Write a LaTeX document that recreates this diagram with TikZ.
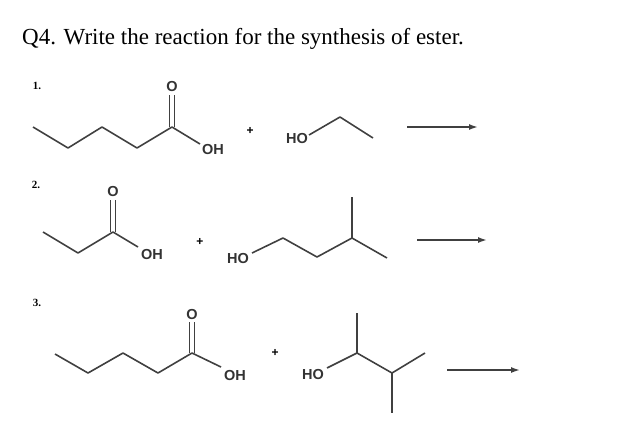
\documentclass[tikz,border=0pt]{standalone}
\usepackage{fontspec}
\setmainfont{Liberation Serif}
\newfontfamily\atomfont{Liberation Sans}
\usetikzlibrary{arrows.meta}
\begin{document}
\begin{tikzpicture}[x=1pt,y=-1pt,
  bond/.style={line width=1.6pt,draw=black!75,line join=round},
  atom/.style={font=\atomfont\bfseries\fontsize{14.5}{14.5}\selectfont,inner sep=0pt,text=black!80},
  num/.style={font=\bfseries\fontsize{11}{11}\selectfont,inner sep=0pt},
  plus/.style={font=\atomfont\bfseries\fontsize{12}{12}\selectfont,inner sep=0pt},
  rarrow/.style={line width=1.6pt,draw=black!75,-{Latex[length=9pt,width=6pt]}}]
\useasboundingbox (0,0) rectangle (628,432);
\node[anchor=base west,inner sep=0pt,font=\fontsize{23}{23}\selectfont] (title) at (22,44) {Q4. Write the reaction for the synthesis of ester.};
% Row 1
\node[num] (n1) at (37,86) {1.};
\draw[bond] (33,127) -- (68,148) -- (102,127) -- (137,148) -- (172,127) -- (200,144);
\node[atom] (o1) at (172,87) {O};
\draw[bond] (169.5,127) -- (169.5,95) (174.5,127) -- (174.5,95);
\node[atom] (oh1) at (213,150) {OH};
\node[plus] (p1) at (250,131) {+};
\node[atom] (ho1) at (297,139) {HO};
\draw[bond] (309,135) -- (340,117) -- (373,138);
\coordinate (a1s) at (407,127); \coordinate (a1e) at (478,127);
\draw[rarrow] (a1s) -- (a1e);
% Row 2
\node[num] (n2) at (36,185) {2.};
\draw[bond] (43,232) -- (78,253) -- (113,232) -- (138,247);
\node[atom] (o2) at (113,192) {O};
\draw[bond] (110.5,232) -- (110.5,200) (115.5,232) -- (115.5,200);
\node[atom] (oh2) at (152,255) {OH};
\node[plus] (p2) at (200,242) {+};
\node[atom] (ho2) at (238,258) {HO};
\draw[bond] (252,253) -- (283,238) -- (317,257) -- (352,238) -- (387,258);
\draw[bond] (352,238) -- (352,197);
\coordinate (a2s) at (417,240); \coordinate (a2e) at (487,240);
\draw[rarrow] (a2s) -- (a2e);
% Row 3
\node[num] (n3) at (37,303) {3.};
\draw[bond] (55,354) -- (88,373) -- (123,353) -- (158,373) -- (192,353) -- (221,367);
\node[atom] (o3) at (192,314) {O};
\draw[bond] (189.5,353) -- (189.5,322) (194.5,353) -- (194.5,322);
\node[atom] (oh3) at (235,375) {OH};
\node[plus] (p3) at (275,353) {+};
\node[atom] (ho3) at (313,374) {HO};
\draw[bond] (327,368) -- (357,353) -- (392,373) -- (425,353);
\draw[bond] (357,353) -- (357,313);
\draw[bond] (392,373) -- (392,413);
\coordinate (a3s) at (447,370); \coordinate (a3e) at (520,370);
\draw[rarrow] (a3s) -- (a3e);
\end{tikzpicture}
\end{document}
